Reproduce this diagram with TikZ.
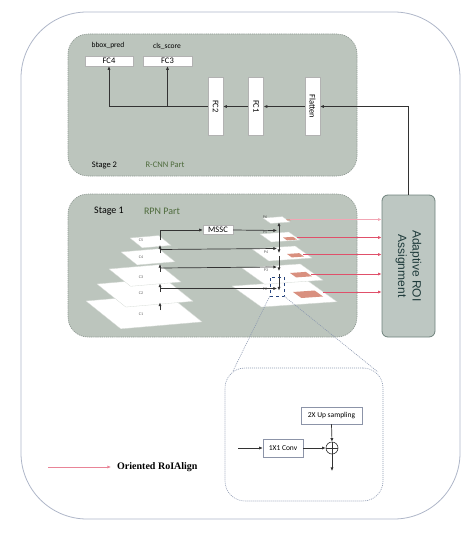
\documentclass[tikz,border=0pt]{standalone}
\usepackage{fontspec}
\setmainfont{Carlito}
\newfontfamily\arialf{Liberation Sans}
\newfontfamily\timesf{Liberation Serif}
\usetikzlibrary{arrows.meta,calc}
\definecolor{stagefill}{HTML}{BCC5BD}
\definecolor{stageline}{HTML}{8E9892}
\definecolor{outerline}{HTML}{AEB6C8}
\definecolor{adfill}{HTML}{BDC7C2}
\definecolor{adline}{HTML}{6F827C}
\definecolor{adtext}{HTML}{1E3A3A}
\definecolor{conn}{HTML}{333333}
\definecolor{rline}{HTML}{E0506A}
\definecolor{rlight}{HTML}{F2A6B4}
\definecolor{patchc}{HTML}{D9907F}
\definecolor{greentext}{HTML}{4E6B3C}
\definecolor{zoomline}{HTML}{8C98B0}
\definecolor{sqblue}{HTML}{27457F}
\definecolor{boxline}{HTML}{8C94A8}
\definecolor{planeedge}{HTML}{D6DBD6}
\newcommand\myplane[3]{\filldraw[planestyle] (#1,#2) -- ++({0.7*#3},{-0.06*#3}) -- ++({0.3*#3},{0.24*#3}) -- ++({-0.7*#3},{0.06*#3}) -- cycle;}
\newcommand\myplaneP[3]{\filldraw[planestyle] (#1,#2) -- ++({0.72*#3},{-0.05*#3}) -- ++({0.28*#3},{0.2*#3}) -- ++({-0.72*#3},{0.05*#3}) -- cycle;}
\newcommand\mypatch[3]{\fill[patchc] (#1,#2) -- ++({0.72*#3},{-0.05*#3}) -- ++({0.28*#3},{0.2*#3}) -- ++({-0.72*#3},{0.05*#3}) -- cycle;}
\begin{document}
\begin{tikzpicture}[x=1pt,y=-1pt,
  planestyle/.style={fill=white,draw=planeedge,line width=0.3pt},
  stagebox/.style={draw=stageline,fill=stagefill,dashed,dash pattern=on 1.2pt off 0.9pt,line width=0.6pt,rounded corners=20pt,inner sep=0},
  detailbox/.style={draw=zoomline,dash pattern=on 1pt off 1pt,line width=0.6pt,rounded corners=20pt,inner sep=0},
  fcbox/.style={draw=black!30,fill=white,inner sep=0,line width=0.4pt,font=\fontsize{8.5}{10}\selectfont},
  smallbox/.style={draw=boxline,fill=white,inner sep=0,line width=0.5pt,font=\fontsize{7.5}{9}\selectfont},
  adbox/.style={draw=adline,fill=adfill,line width=0.8pt,rounded corners=6pt,inner sep=0,text=adtext,font=\arialf\fontsize{12}{14.5}\selectfont},
  tiny/.style={font=\fontsize{4}{5}\selectfont,text=black!65,inner sep=0},
  lbl/.style={inner sep=0},
  arr/.style={draw=conn,line width=0.7pt,-{Latex[length=3.6pt,width=3.2pt]}},
  plainline/.style={draw=conn,line width=0.7pt},
  redarr/.style={draw=rline,line width=0.8pt,-{Latex[length=3.6pt,width=3.2pt]}},
  lightarr/.style={draw=rlight,line width=0.8pt,-{Latex[length=3.6pt,width=3.2pt]}},
  zl/.style={draw=zoomline,dash pattern=on 1pt off 1pt,line width=0.6pt}]
\useasboundingbox (0,0) rectangle (474,535);
% outer frame
\draw[outerline,line width=0.8pt,rounded corners=66pt] (21,12) rectangle (460,519);
% stage boxes
\node[stagebox,minimum width=289pt,minimum height=142pt] (stage2) at (212.5,105) {};
\node[stagebox,minimum width=289pt,minimum height=143pt] (stage1) at (212.5,265.5) {};
% detail box
\node[detailbox,minimum width=158pt,minimum height=133pt] (detail) at (304,434.5) {};
% stage 2 content
\node[lbl,font=\fontsize{8.5}{10}\selectfont] (st2) at (104.5,165) {Stage 2};
\node[lbl,font=\fontsize{8.5}{10}\selectfont,text=greentext] (rcnn) at (165,165) {R-CNN Part};
\node[lbl,font=\fontsize{7.5}{9}\selectfont] (bbl) at (108,46) {bbox\_pred};
\node[lbl,font=\fontsize{7.5}{9}\selectfont] (csl) at (167,46) {cls\_score};
\node[fcbox,minimum width=48pt,minimum height=10pt] (fc4) at (109,61) {FC4};
\node[fcbox,minimum width=49pt,minimum height=10pt] (fc3) at (167.5,61) {FC3};
\node[fcbox,rotate=-90,minimum width=58pt,minimum height=15pt] (fc2) at (215.5,106.5) {FC2};
\node[fcbox,rotate=-90,minimum width=58pt,minimum height=15pt] (fc1) at (256,106.5) {FC1};
\node[fcbox,rotate=-90,minimum width=58pt,minimum height=15pt] (flat) at (312.5,106.5) {Flatten};
% adaptive box
\node[adbox,rotate=-90,minimum width=142pt,minimum height=53pt,align=center] (adapt) at (408.5,266) {Adaptive ROI\\Assignment};
% stage 2 connectors
\draw[arr] (adapt.west) |- (flat.north);
\draw[arr] (flat.south) -- (fc1.north);
\draw[arr] (fc1.south) -- (fc2.north);
\draw[arr] (fc2.south) -| (fc4.south);
\draw[arr] (fc2.south -| fc3.south) -- (fc3.south);
% stage 1 labels
\node[lbl,font=\fontsize{10}{12}\selectfont] (st1) at (109,211) {Stage 1};
\node[lbl,font=\fontsize{10}{12}\selectfont,text=greentext] (rpn) at (162,211) {RPN Part};
% C pyramid
\myplane{86}{301}{116}
\myplane{97}{284}{96}
\myplane{109}{269}{72}
\myplane{121}{252}{54}
\myplane{130}{238}{41}
\node[tiny] (c1) at (141,314) {C1};
\node[tiny] (c2) at (141,293) {C2};
\node[tiny] (c3) at (141,277) {C3};
\node[tiny] (c4) at (141,257) {C4};
\node[tiny] (c5) at (141,240) {C5};
% P pyramid
\myplaneP{232}{286}{105}
\myplaneP{242}{268}{81}
\myplaneP{252}{249}{60}
\myplaneP{260}{234}{40}
\myplaneP{263}{218}{27}
\mypatch{293}{292}{30}
\mypatch{290}{273}{22}
\mypatch{287}{254}{17}
\mypatch{283}{237.5}{14}
\mypatch{286}{219.5}{5}
\node[tiny] (p2) at (265,289) {P2};
\node[tiny] (p3) at (266,270) {P3};
\node[tiny] (p4) at (266,252) {P4};
\node[tiny] (p5) at (265,232) {P5};
\node[tiny] (p6) at (265,217) {P6};
% MSSC
\node[fcbox,minimum width=30pt,minimum height=9pt] (mssc) at (218,230) {MSSC};
% C-side arrows
\coordinate (a1s) at (160,310); \coordinate (a1e) at (160,302.5);
\coordinate (a2s) at (160,292); \coordinate (a2e) at (160,283.5);
\coordinate (a3s) at (160,271.5); \coordinate (a3e) at (160,264);
\coordinate (a4s) at (160,253); \coordinate (a4e) at (160,245);
\coordinate (c5s) at (160,240); \coordinate (c5t) at (160,230);
\draw[arr] (a1s) -- (a1e);
\draw[arr] (a2s) -- (a2e);
\draw[arr] (a3s) -- (a3e);
\draw[arr] (a4s) -- (a4e);
\draw[plainline] (c5s) -- (c5t);
\draw[arr] (c5t) -- (mssc.west);
% lateral
\coordinate (l2s) at (160,288.5); \coordinate (l2e) at (277,288.5);
\coordinate (l3s) at (160,268); \coordinate (l3e) at (277,267);
\coordinate (l4s) at (160,249.5); \coordinate (l4e) at (277,248.5);
\coordinate (m5) at (277,230.5);
\draw[arr] (l2s) -- (l2e);
\draw[arr] (l3s) -- (l3e);
\draw[arr] (l4s) -- (l4e);
\draw[arr] (mssc.east) -- (m5);
% P-side arrows
\coordinate (p5c) at (279,232); \coordinate (p6b) at (279,222.5);
\coordinate (p4t) at (279,253); \coordinate (p4c) at (279,256);
\coordinate (p3t) at (279,271); \coordinate (p3c) at (279,274);
\coordinate (p2t) at (279,290.5);
\draw[arr] (p5c) -- (p6b);
\draw[arr] (p5c) -- (p4t);
\draw[arr] (p4c) -- (p3t);
\draw[arr] (p3c) -- (p2t);
% red lines to assignment
\coordinate (r6) at (290,219.5);
\coordinate (r5) at (297,237.5);
\coordinate (r4) at (303,254.5);
\coordinate (r3) at (311,274);
\coordinate (r2) at (323,292);
\draw[lightarr] (r6) -- (r6 -| adapt.south);
\draw[redarr] (r5) -- (r5 -| adapt.south);
\draw[redarr] (r4) -- (r4 -| adapt.south);
\draw[redarr] (r3) -- (r3 -| adapt.south);
\draw[redarr] (r2) -- (r2 -| adapt.south);
% zoom square and lines
\node[draw=sqblue,dashed,line width=0.7pt,minimum width=14pt,minimum height=19pt,inner sep=0] (sq) at (277,286.5) {};
\coordinate (zlc) at (233,371);
\coordinate (zrc) at (378,372);
\draw[zl] (sq.south west) -- (zlc);
\draw[zl] (sq.south east) -- (zrc);
% detail content
\node[smallbox,minimum width=61pt,minimum height=17pt] (up) at (331.5,415.5) {2X Up sampling};
\node[smallbox,minimum width=40pt,minimum height=18pt] (conv) at (283,448) {1X1 Conv};
\node[circle,draw=conn,line width=0.6pt,minimum size=12pt,inner sep=0,fill=white] (plus) at (332,448) {};
\draw[conn,line width=0.6pt] (plus.north) -- (plus.south);
\draw[conn,line width=0.6pt] (plus.west) -- (plus.east);
\coordinate (din) at (238,448);
\coordinate (dout) at (332,471);
\draw[arr] (din) -- (conv.west);
\draw[arr] (conv.east) -- (plus.west);
\draw[arr] (up.south) -- (plus.north);
\draw[arr] (plus.south) -- (dout);
% legend
\coordinate (lg) at (48,467);
\node[anchor=west,inner sep=0,font=\timesf\bfseries\fontsize{10}{12}\selectfont] (lgt) at (117,467) {Oriented RoIAlign};
\draw[draw=rline!70,line width=0.7pt,-{Latex[length=3.6pt,width=3.2pt]}] (lg) -- ([xshift=-6pt]lgt.west);
\end{tikzpicture}
\end{document}
